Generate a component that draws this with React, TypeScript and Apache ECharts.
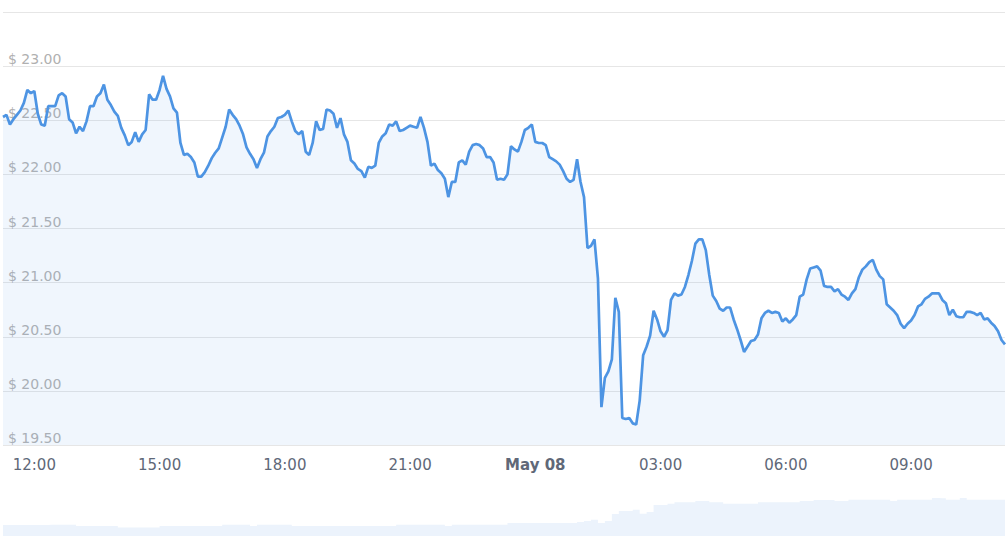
import React, { useEffect, useRef } from "react";
import * as echarts from "echarts";

// ---- data ----
const startHour = 11; // first sample 11:15 on May 7, then every 5 minutes
const startMinute = 15;
const stepMinutes = 5;
const labelEveryHours = 3;
const midnightLabel = "May 08";

const prices = [
  22.53, 22.55, 22.46, 22.51, 22.55, 22.59, 22.66, 22.78, 22.75, 22.77,
  22.56, 22.46, 22.45, 22.63, 22.63, 22.63, 22.73, 22.75, 22.72, 22.51,
  22.48, 22.38, 22.44, 22.40, 22.49, 22.63, 22.63, 22.72, 22.75, 22.83,
  22.69, 22.64, 22.58, 22.54, 22.43, 22.36, 22.27, 22.30, 22.39, 22.30,
  22.37, 22.41, 22.74, 22.69, 22.69, 22.78, 22.91, 22.79, 22.72, 22.61,
  22.57, 22.29, 22.18, 22.19, 22.16, 22.11, 21.98, 21.98, 22.02, 22.08,
  22.15, 22.20, 22.24, 22.34, 22.44, 22.60, 22.55, 22.51, 22.45, 22.37,
  22.25, 22.19, 22.14, 22.06, 22.14, 22.20, 22.35, 22.40, 22.44, 22.52,
  22.53, 22.55, 22.59, 22.49, 22.40, 22.37, 22.40, 22.21, 22.18, 22.29,
  22.49, 22.41, 22.42, 22.60, 22.59, 22.56, 22.43, 22.52, 22.37, 22.30,
  22.13, 22.10, 22.05, 22.03, 21.97, 22.07, 22.06, 22.08, 22.29, 22.35,
  22.38, 22.46, 22.45, 22.49, 22.40, 22.41, 22.43, 22.45, 22.44, 22.43,
  22.53, 22.43, 22.30, 22.08, 22.10, 22.04, 22.01, 21.96, 21.79, 21.93,
  21.93, 22.11, 22.13, 22.09, 22.21, 22.27, 22.28, 22.27, 22.24, 22.16,
  22.16, 22.11, 21.95, 21.96, 21.95, 22.00, 22.26, 22.23, 22.21, 22.30,
  22.41, 22.43, 22.46, 22.30, 22.29, 22.29, 22.27, 22.16, 22.14, 22.12,
  22.09, 22.03, 21.96, 21.93, 21.95, 22.14, 21.93, 21.79, 21.32, 21.34,
  21.40, 21.04, 19.85, 20.12, 20.18, 20.29, 20.86, 20.73, 19.75, 19.74,
  19.75, 19.70, 19.69, 19.91, 20.33, 20.41, 20.51, 20.74, 20.66, 20.55,
  20.50, 20.56, 20.84, 20.90, 20.88, 20.89, 20.96, 21.07, 21.20, 21.36,
  21.40, 21.40, 21.30, 21.07, 20.88, 20.83, 20.76, 20.74, 20.77, 20.77,
  20.66, 20.57, 20.47, 20.36, 20.41, 20.46, 20.47, 20.52, 20.67, 20.72,
  20.74, 20.72, 20.73, 20.72, 20.64, 20.67, 20.63, 20.66, 20.70, 20.87,
  20.89, 21.03, 21.13, 21.14, 21.15, 21.11, 20.97, 20.96, 20.96, 20.92,
  20.94, 20.89, 20.87, 20.84, 20.90, 20.94, 21.05, 21.12, 21.15, 21.19,
  21.21, 21.12, 21.06, 21.03, 20.80, 20.77, 20.74, 20.70, 20.62, 20.58,
  20.62, 20.65, 20.70, 20.78, 20.80, 20.85, 20.87, 20.90, 20.90, 20.90,
  20.84, 20.81, 20.70, 20.75, 20.69, 20.68, 20.68, 20.73, 20.73, 20.72,
  20.70, 20.72, 20.66, 20.67, 20.63, 20.60, 20.55, 20.47, 20.43,
];

// navigator (overview strip) values, one per 10 minutes
const navigatorValues = [
  11, 11, 11, 11, 11, 11, 11, 11.3, 11.3, 11.3,
  11.3, 10, 10, 10, 10, 10, 10, 8.5, 8.5, 8.5,
  8.5, 8.5, 8.5, 10, 10, 10, 10, 10, 10, 10,
  10, 10, 11.3, 11.3, 11.3, 11.3, 10, 11.3, 11.3, 11.3,
  11.3, 11.3, 10, 10, 10, 10, 10, 10, 10, 10,
  10, 10, 10, 10, 10, 10, 10, 11.3, 11.3, 11.3,
  11.3, 11.3, 11.3, 11.3, 10, 11.3, 11.3, 11.3, 11.3, 11.3,
  11.3, 11.3, 11.3, 13, 13, 13, 13, 13, 13, 13,
  13, 13, 13, 14, 15, 16.3, 13, 15, 22, 25,
  25, 26.3, 22.3, 24, 31, 31, 32.3, 33.7, 33.7, 33.7,
  35, 35, 33.7, 33.7, 32.3, 32.3, 32.3, 32.3, 32.3, 33.7,
  33.7, 33.7, 33.7, 33.7, 33.7, 35, 35, 36, 36, 36,
  35, 35, 36.3, 36.3, 36.3, 36.3, 36.3, 36.3, 35, 36.3,
  36.3, 36.3, 36.3, 36.3, 38, 37.7, 36.3, 36.3, 38, 36.3,
  36.3, 36.3, 36.3, 36.3, 36.3,
];

const yMin = 19.5;
const yMax = 23.5;
const yStep = 0.5;
const currencyPrefix = "$ ";

const FONT = "DejaVu Sans";

export default function App() {
  const ref = useRef<HTMLDivElement>(null);

  useEffect(() => {
    if (!ref.current) return;
    const chart = echarts.init(ref.current, undefined, { renderer: "svg" });
    const pad = (n: number) => (n < 10 ? "0" + n : "" + n);
    const times = prices.map((_, i) => {
      const total = startHour * 60 + startMinute + i * stepMinutes;
      const h = Math.floor(total / 60) % 24;
      const m = total % 60;
      return pad(h) + ":" + pad(m);
    });
    const isLabelTime = (t: string) => {
      const [h, m] = t.split(":").map(Number);
      return m === 0 && h % labelEveryHours === 0;
    };

    chart.setOption({
      animation: false,
      grid: [
        { left: 3, right: 2, top: 12, bottom: 94 },
        { left: 3, right: 2, top: 496, bottom: 3 },
      ],
      xAxis: [
        {
          type: "category",
          gridIndex: 0,
          data: times,
          boundaryGap: false,
          axisLine: { show: false },
          axisTick: { show: false },
          splitLine: { show: false },
          axisLabel: {
            interval: (index: number, value: string) => isLabelTime(value),
            margin: 12,
            fontSize: 15,
            fontFamily: FONT,
            color: "#606878",
            formatter: (value: string) => {
              if (!isLabelTime(value)) return "";
              if (value === "00:00") return "{b|" + midnightLabel + "}";
              return value;
            },
            rich: {
              b: { fontWeight: "bold", fontSize: 15, fontFamily: FONT, color: "#606878" },
            },
          },
        },
        {
          type: "category",
          gridIndex: 1,
          show: false,
          boundaryGap: false,
          data: navigatorValues.map((_, i) => i),
        },
      ],
      yAxis: [
        {
          type: "value",
          gridIndex: 0,
          min: yMin,
          max: yMax,
          interval: yStep,
          axisLine: { show: false },
          axisTick: { show: false },
          splitLine: { lineStyle: { color: "#e6e6e6", width: 1 } },
          axisLabel: {
            inside: true,
            margin: 5,
            verticalAlign: "bottom",
            fontSize: 14,
            fontFamily: FONT,
            color: "#b0b0b0",
            formatter: (v: number) =>
              Math.abs(v - yMax) < 1e-9 ? "" : currencyPrefix + v.toFixed(2),
          },
        },
        { type: "value", gridIndex: 1, min: 0, max: 40, show: false },
      ],
      series: [
        {
          type: "line",
          xAxisIndex: 0,
          yAxisIndex: 0,
          data: prices,
          showSymbol: false,
          lineStyle: { color: "#4d94e3", width: 2.7 },
          areaStyle: { color: "rgba(124,176,236,0.16)", origin: "start" },
          z: 3,
        },
        {
          type: "line",
          xAxisIndex: 1,
          yAxisIndex: 1,
          data: navigatorValues,
          step: "middle",
          showSymbol: false,
          lineStyle: { width: 0 },
          areaStyle: { color: "#ecf3fc", opacity: 1 },
        },
      ],
    });

    return () => chart.dispose();
  }, []);

  return (
    <div
      ref={ref}
      style={{ position: "absolute", left: 0, top: 0, width: 1007, height: 539, background: "#fff" }}
    />
  );
}
